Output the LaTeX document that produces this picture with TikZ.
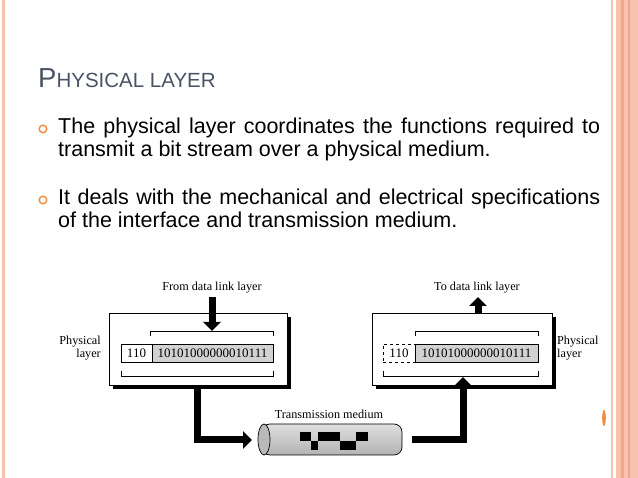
\documentclass[tikz,border=0pt]{standalone}
\usepackage{fontspec}
\setmainfont{Liberation Sans}
\newfontfamily\ser{Liberation Serif}
\usetikzlibrary{arrows.meta}
\definecolor{titlec}{HTML}{4A5363}
\definecolor{bord}{HTML}{F8C2AE}
\definecolor{bordd}{HTML}{F2A88C}
\definecolor{bul}{HTML}{F08A3C}
\hyphenpenalty=10000
\tikzset{
 lbl/.style={font=\ser\fontsize{12.2}{13.5}\selectfont, inner sep=0pt},
 outerbox/.style={draw, line width=0.8pt, fill=white},
 fld/.style={draw, line width=0.6pt, inner sep=0pt, font=\ser\fontsize{13}{14}\selectfont},
 bigarrow/.style={line width=7pt, -{Triangle[length=9pt,width=17pt]}},
 btext/.style={font=\fontsize{21.5}{23}\selectfont, text width=542pt, align=justify, inner sep=0pt, anchor=north west}
}
\begin{document}
\begin{tikzpicture}[x=1pt,y=-1pt]
\useasboundingbox (0,0) rectangle (638,478);
\fill[white] (0,0) rectangle (638,478);
% borders
\fill[bord] (2,0) rectangle (5,478);
\fill[bord] (611,0) rectangle (613,478);
\fill[bord] (616,0) rectangle (638,478);
\fill[bordd] (621,0) rectangle (624,478);
\fill[bordd] (628,0) rectangle (630,478);
\fill[bul] (604,418) ellipse (1.8 and 8);
% title
\node[anchor=base west, inner sep=0pt, text=titlec] (title) at (38,88)
 {\fontsize{27.5}{30}\selectfont P\fontsize{20.5}{24}\selectfont HYSICAL LAYER};
% bullets
\draw[bul, line width=1.4pt] (43,129) circle (3.8);
\draw[bul, line width=1.4pt] (43,200) circle (3.8);
\node[btext] (b1) at (58,118) {The physical layer coordinates the functions required to\linebreak transmit a bit stream over a physical medium.};
\node[btext] (b2) at (58,189) {It deals with the mechanical and electrical specifications\linebreak of the interface and transmission medium.};
% left box
\fill (113,317) rectangle (291,389);
\draw[outerbox] (109,313) rectangle (287,385);
\draw[line width=0.6pt] (150,336) -- (150,331) -- (273,331) -- (273,336);
\draw[line width=0.6pt] (121,371) -- (121,376) -- (273,376) -- (273,371);
\node[fld, minimum width=31pt, minimum height=18pt, fill=white] (h1) at (136.5,353) {110};
\node[fld, minimum width=121pt, minimum height=18pt, fill=gray!35] (d1) at (212.5,353) {10101000000010111};
\node[lbl, anchor=base] (from) at (212,291) {From data link layer};
\node[lbl, align=right, anchor=east] (pl1) at (101,348) {Physical\\layer};
\coordinate (fa) at (212,297);
\coordinate (fb) at (212,331);
\draw[bigarrow] (fa) -- (fb);
% right box
\fill (376,317) rectangle (556,389);
\draw[outerbox] (372,313) rectangle (552,385);
\draw[line width=0.6pt] (415,336) -- (415,331) -- (538,331) -- (538,336);
\draw[line width=0.6pt] (383,371) -- (383,376) -- (538,376) -- (538,371);
\node[fld, dashed, minimum width=32pt, minimum height=18pt, fill=white] (h2) at (399,353) {110};
\node[fld, minimum width=123pt, minimum height=18pt, fill=gray!35] (d2) at (476.5,353) {10101000000010111};
\node[lbl, anchor=base] (to) at (477,291) {To data link layer};
\node[lbl, align=left, anchor=west] (pl2) at (557,348) {Physical\\layer};
\coordinate (ta) at (478,313);
\coordinate (tb) at (478,297);
\draw[bigarrow] (ta) -- (tb);
% tube
\node[lbl, anchor=base] (tm) at (329,419) {Transmission medium};
\shade[top color=gray!25, bottom color=gray!60, draw=black, line width=0.7pt, rounded corners=8pt] (262,424) rectangle (402,455);
\draw[line width=0.7pt, fill=gray!55] (264,439.5) ellipse (6 and 15.5);
\fill (300,432) rectangle (311,441);
\fill (311,441) rectangle (318,450);
\fill (318,432) rectangle (340,441);
\fill (340,441) rectangle (356,450);
\fill (356,432) rectangle (368,441);
\coordinate (tubeL) at (252,440);
\coordinate (tubeR) at (412,440);
% connectors
\draw[bigarrow] (197,385) -- (197,440) -- (tubeL);
\draw[bigarrow] (tubeR) -- (463,440) -- (463,377);
\end{tikzpicture}
\end{document}
